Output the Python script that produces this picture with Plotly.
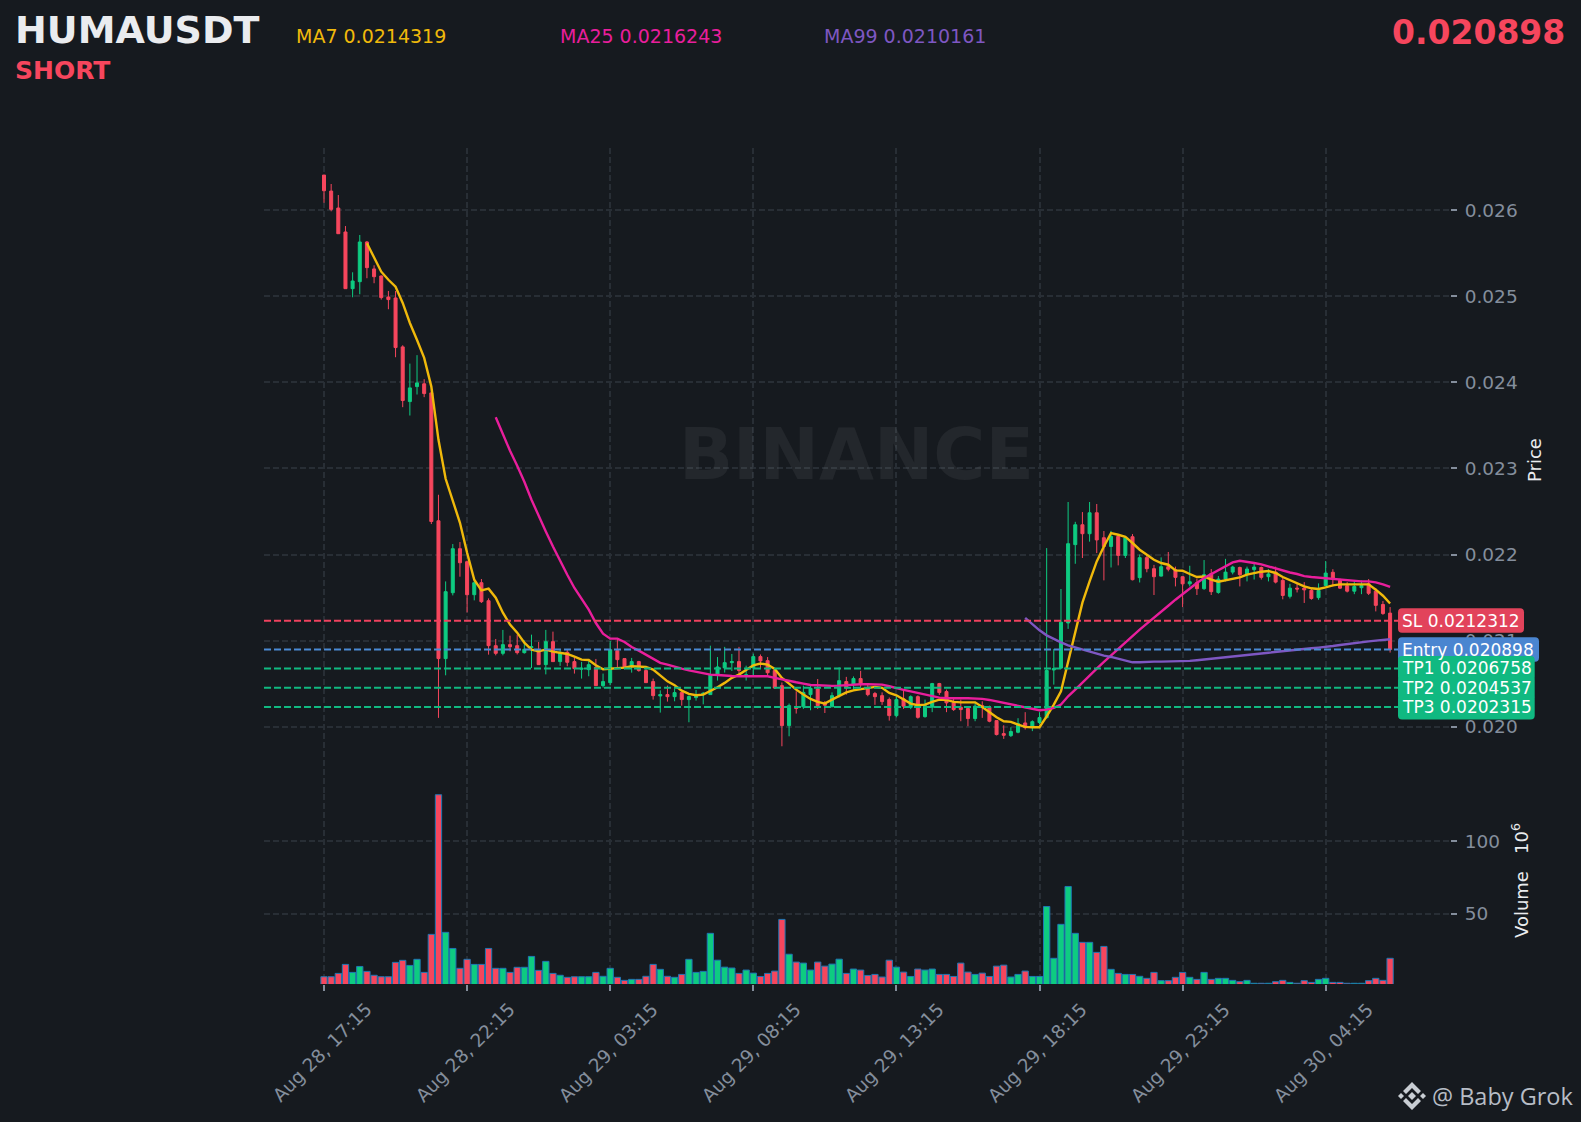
import pandas as pd
import plotly.graph_objects as go
from plotly.subplots import make_subplots

# Prices are in millionths of USDT, volume in millions
start_time = "2025-08-28 17:15"

opens = [26406, 26220, 26023, 25745, 25087, 25168, 25629, 25316, 25234, 24990,
         24979, 24411, 23776, 23950, 23982, 23877, 22392, 20792, 21557, 22068,
         21917, 21534, 21673, 21464, 20942, 20853, 20954, 20942, 20861, 20920,
         20877, 20722, 20989, 20757, 20865, 20757, 20668, 20664, 20690, 20478,
         20513, 20884, 20792, 20703, 20757, 20653, 20525, 20358, 20374, 20350,
         20397, 20316, 20339, 20374, 20374, 20606, 20684, 20745, 20757, 20590,
         20684, 20815, 20768, 20653, 20478, 20014, 20232, 20232, 20374, 20440,
         20275, 20232, 20362, 20525, 20490, 20560, 20458, 20386, 20362, 20316,
         20130, 20325, 20226, 20350, 20118, 20227, 20502, 20409, 20278, 20227,
         20212, 20096, 20246, 20227, 20072, 19921, 19898, 19937, 20045, 20007,
         20050, 20107, 20660, 20682, 21206, 22115, 22346, 22242, 22485, 22195,
         22094, 22210, 21990, 22207, 21732, 21964, 21836, 21750, 21859, 21824,
         21743, 21660, 21673, 21604, 21778, 21560, 21715, 21796, 21850, 21766,
         21825, 21850, 21743, 21796, 21700, 21515, 21610, 21610, 21584, 21500,
         21640, 21794, 21700, 21638, 21575, 21615, 21660, 21575, 21420, 21320]

highs = [26406, 26302, 26174, 25814, 25277, 25710, 25640, 25358, 25240, 25060,
         25060, 24430, 24217, 24315, 24036, 23970, 22694, 21688, 22122, 22145,
         21930, 21700, 21716, 21491, 21020, 21125, 21058, 21070, 21005, 21070,
         20985, 21125, 21105, 20896, 20890, 20803, 20754, 20770, 20788, 20618,
         20997, 21012, 20792, 20800, 20765, 20680, 20560, 20424, 20478, 20444,
         20397, 20365, 20428, 20405, 20942, 20810, 20928, 20846, 20928, 20710,
         20850, 20840, 20810, 20680, 20515, 20270, 20412, 20478, 20480, 20555,
         20300, 20400, 20690, 20580, 20585, 20650, 20500, 20405, 20400, 20340,
         20370, 20432, 20365, 20365, 20316, 20510, 20510, 20432, 20330, 20316,
         20240, 20275, 20296, 20246, 20072, 20018, 19995, 20100, 20170, 20075,
         20170, 22075, 20903, 21600, 22610, 22380, 22493, 22610, 22587, 22273,
         22275, 22230, 22215, 22238, 22000, 22000, 21880, 21967, 22030, 21860,
         21745, 21870, 21720, 21936, 21832, 21750, 21950, 21870, 21860, 21860,
         21900, 21860, 21830, 21860, 21735, 21660, 21665, 21680, 21600, 21665,
         21925, 21830, 21720, 21680, 21690, 21700, 21715, 21610, 21460, 21390]

lows = [26085, 25985, 25725, 25087, 24987, 25022, 25208, 25150, 24960, 24848,
        24291, 23711, 23614, 23858, 23827, 22354, 20104, 20598, 21526, 21743,
        21329, 21468, 21438, 20838, 20830, 20830, 20877, 20840, 20850, 20683,
        20722, 20609, 20757, 20707, 20703, 20618, 20560, 20587, 20478, 20455,
        20482, 20690, 20668, 20629, 20640, 20513, 20316, 20165, 20293, 20296,
        20246, 20053, 20304, 20261, 20374, 20537, 20630, 20648, 20606, 20537,
        20587, 20683, 20587, 20440, 19774, 19890, 20154, 20208, 20192, 20208,
        20160, 20232, 20340, 20374, 20432, 20452, 20355, 20255, 20255, 20072,
        20110, 20208, 20205, 20095, 20107, 20170, 20370, 20170, 20185, 20065,
        20007, 20065, 20104, 20053, 19900, 19860, 19882, 19925, 19968, 19950,
        20030, 20095, 20490, 20670, 21137, 21893, 21960, 22150, 22017, 21700,
        21850, 21874, 21960, 21700, 21676, 21794, 21530, 21745, 21805, 21630,
        21390, 21630, 21530, 21590, 21530, 21545, 21688, 21770, 21630, 21688,
        21710, 21710, 21688, 21665, 21480, 21490, 21560, 21438, 21475, 21475,
        21630, 21630, 21600, 21560, 21540, 21540, 21530, 21340, 21300, 20862]

closes = [26224, 26008, 25725, 25087, 25176, 25629, 25331, 25226, 24983, 24960,
          24403, 23788, 23935, 23993, 23869, 22384, 20792, 21569, 22068, 21905,
          21534, 21673, 21453, 20942, 20853, 20954, 20930, 20861, 20900, 20930,
          20722, 20989, 20757, 20858, 20749, 20676, 20680, 20722, 20478, 20525,
          20896, 20780, 20691, 20757, 20653, 20513, 20362, 20374, 20350, 20397,
          20316, 20351, 20374, 20390, 20606, 20695, 20745, 20757, 20653, 20605,
          20815, 20765, 20628, 20450, 20014, 20246, 20212, 20400, 20447, 20246,
          20250, 20362, 20536, 20452, 20560, 20490, 20374, 20350, 20293, 20130,
          20316, 20240, 20350, 20110, 20246, 20502, 20397, 20278, 20200, 20200,
          20096, 20240, 20232, 20065, 19910, 19902, 19945, 20037, 19990, 20060,
          20107, 20654, 20676, 21215, 22126, 22346, 22242, 22485, 22170, 22094,
          22210, 21990, 22195, 21708, 21964, 21836, 21743, 21859, 21830, 21735,
          21660, 21684, 21604, 21766, 21569, 21715, 21796, 21855, 21766, 21832,
          21855, 21735, 21775, 21680, 21525, 21610, 21600, 21590, 21490, 21584,
          21785, 21716, 21610, 21575, 21630, 21640, 21550, 21410, 21315, 20898]

volumes = [6.6, 6.6, 8.9, 15.1, 9.6, 13.7, 10.3, 7.6, 6.6, 6.6,
           16.5, 17.9, 14.4, 18.6, 9.6, 35.8, 132, 37.2, 26.1, 12.4,
           18.6, 15.1, 15.1, 26.1, 12.4, 12.4, 9.6, 13.1, 13.1, 20.6,
           11, 17.2, 8.9, 7.6, 6.2, 6.6, 6.6, 6.6, 9.6, 6.9,
           12.4, 6.2, 4.1, 4.8, 4.8, 6.9, 15.1, 11.7, 6.9, 6.2,
           8.2, 18.6, 9.6, 10.3, 36.5, 18, 13.2, 12.6, 8.9, 11.2,
           9.1, 6.8, 8.9, 10.5, 46.1, 22.1, 16.7, 16, 11.2, 16.7,
           13.9, 15.3, 18.7, 8.9, 11.9, 11.2, 7.5, 8.2, 6.4, 18,
           13.2, 9.8, 6.8, 11.9, 11.2, 11.9, 8.2, 8.2, 6.8, 16,
           9.8, 8.2, 9.1, 6.8, 13.9, 14.6, 6.4, 8.2, 10.5, 6.8,
           6.8, 55, 19.3, 42.7, 68.8, 36.5, 30.3, 30.3, 23.4, 27.5,
           11.7, 8.9, 8.2, 8.2, 6.9, 5.5, 9.6, 3.9, 3.9, 6.2,
           9.6, 6.2, 4.8, 9.6, 4.8, 5.5, 5.5, 4.1, 3.2, 4.1,
           2.1, 2.1, 2.1, 3.2, 4.1, 2.7, 2.1, 3.9, 2.7, 4.8,
           5.5, 2.7, 2.7, 2.1, 2.1, 2.1, 3.9, 5.5, 4.1, 19.3]

# The moving averages end on the last candle, each starts later
ma7 = [25614, 25450, 25284, 25190, 25110, 24921, 24689, 24492, 24283, 23950,
       23332, 22880, 22636, 22369, 22020, 21708, 21584, 21604, 21499, 21325,
       21186, 21093, 20977, 20896, 20877, 20896, 20873, 20861, 20846, 20815,
       20780, 20776, 20714, 20668, 20676, 20676, 20687, 20703, 20699, 20695,
       20664, 20598, 20528, 20482, 20420, 20382, 20366, 20374, 20412, 20459,
       20510, 20568, 20606, 20656, 20714, 20734, 20722, 20672, 20568, 20502,
       20432, 20374, 20324, 20289, 20270, 20316, 20362, 20400, 20424, 20436,
       20452, 20464, 20452, 20394, 20366, 20316, 20270, 20250, 20258, 20289,
       20316, 20312, 20289, 20284, 20284, 20284, 20231, 20169, 20111, 20065,
       20057, 20026, 19999, 19995, 19995, 20122, 20258, 20412, 20745, 21093,
       21441, 21688, 21920, 22094, 22250, 22230, 22207, 22134, 22056, 21998,
       21940, 21902, 21882, 21816, 21812, 21774, 21739, 21746, 21708, 21685,
       21700, 21720, 21735, 21766, 21786, 21801, 21809, 21786, 21739, 21700,
       21662, 21631, 21608, 21600, 21619, 21642, 21654, 21654, 21654, 21662,
       21654, 21592, 21522, 21432]

ma25 = [23595, 23390, 23204, 23030, 22845, 22636, 22443, 22268, 22094, 21920,
        21766, 21612, 21488, 21360, 21205, 21082, 21024, 21024, 20985, 20927,
        20884, 20838, 20788, 20742, 20722, 20703, 20676, 20656, 20637, 20618,
        20606, 20602, 20594, 20590, 20587, 20587, 20590, 20590, 20587, 20568,
        20548, 20528, 20517, 20502, 20486, 20482, 20475, 20475, 20478, 20486,
        20490, 20494, 20494, 20494, 20490, 20471, 20447, 20428, 20412, 20394,
        20378, 20359, 20339, 20331, 20335, 20331, 20331, 20331, 20324, 20312,
        20296, 20278, 20262, 20246, 20227, 20208, 20192, 20200, 20219, 20258,
        20354, 20432, 20517, 20598, 20676, 20753, 20830, 20904, 20981, 21051,
        21128, 21198, 21264, 21333, 21406, 21476, 21542, 21604, 21670, 21728,
        21774, 21816, 21870, 21909, 21928, 21917, 21902, 21886, 21862, 21836,
        21812, 21792, 21774, 21750, 21739, 21731, 21723, 21716, 21708, 21700,
        21696, 21688, 21688, 21677, 21654, 21624]

ma99 = [21264, 21186, 21120, 21062, 21020, 20981, 20946, 20923, 20896, 20869,
        20846, 20826, 20811, 20792, 20768, 20749, 20749, 20757, 20757, 20757,
        20757, 20757, 20757, 20765, 20772, 20780, 20788, 20795, 20806, 20814,
        20822, 20832, 20842, 20851, 20860, 20870, 20880, 20889, 20896, 20904,
        20912, 20920, 20927, 20938, 20950, 20962, 20974, 20985, 20992, 21000,
        21009, 21016]

price_ticks = [0.020, 0.021, 0.022, 0.023, 0.024, 0.025, 0.026]
volume_ticks = [50, 100]
tick_every = 20

levels = ["SL 0.0212312", "Entry 0.020898", "TP1 0.0206758", "TP2 0.0204537", "TP3 0.0202315"]
level_values = [0.0212312, 0.020898, 0.0206758, 0.0204537, 0.0202315]

BG = "#161a1f"
GRID = "#282e35"
TICK = "#848e9c"
WHITE = "#eaecef"
RED = "#f6465d"
GREEN = "#0ecb81"
BLUE = "#4a8ad4"
YELLOW = "#f0b90b"
PINK = "#e91e9c"
PURPLE = "#7e57c2"
FONT = "DejaVu Sans"

# Plot area in page pixels
LEFT, RIGHT, TOP, BOTTOM = 264, 1450, 148, 984
SPLIT = 794


def fx(px):
    return (px - LEFT) / (RIGHT - LEFT)


def fy(py):
    return (BOTTOM - py) / (BOTTOM - TOP)


def rounded_box(x0, y0, x1, y1, r=4):
    "Path of a box with rounded corners, given in page pixels"
    corners = [
        f"M {fx(x0 + r)},{fy(y0)}", f"L {fx(x1 - r)},{fy(y0)}",
        f"Q {fx(x1)},{fy(y0)} {fx(x1)},{fy(y0 + r)}", f"L {fx(x1)},{fy(y1 - r)}",
        f"Q {fx(x1)},{fy(y1)} {fx(x1 - r)},{fy(y1)}", f"L {fx(x0 + r)},{fy(y1)}",
        f"Q {fx(x0)},{fy(y1)} {fx(x0)},{fy(y1 - r)}", f"L {fx(x0)},{fy(y0 + r)}",
        f"Q {fx(x0)},{fy(y0)} {fx(x0 + r)},{fy(y0)}", "Z",
    ]
    return " ".join(corners)


def polygon(points):
    "Path of a closed polygon, given in page pixels"
    parts = [f"{fx(x)},{fy(y)}" for x, y in points]
    return "M " + " L ".join(parts) + " Z"


def text_note(fig, text, x, y, size, color, anchor="left", bold=False, angle=0, family=FONT):
    if bold:
        text = f"<b>{text}</b>"
    fig.add_annotation(
        text=text, xref="paper", yref="paper", x=fx(x), y=fy(y),
        xanchor=anchor, yanchor="middle", showarrow=False, textangle=angle,
        font=dict(family=family, size=size, color=color),
    )


dates = pd.date_range(start_time, periods=len(closes), freq="15min")
scale = 1e-6
o = [v * scale for v in opens]
h = [v * scale for v in highs]
l = [v * scale for v in lows]
c = [v * scale for v in closes]

fig = make_subplots(rows=2, cols=1, shared_xaxes=True, vertical_spacing=0)

fig.add_trace(go.Candlestick(
    x=dates, open=o, high=h, low=l, close=c,
    increasing=dict(line=dict(color=GREEN, width=1), fillcolor=GREEN),
    decreasing=dict(line=dict(color=RED, width=1), fillcolor=RED),
    name="Price", hoverinfo="skip",
), row=1, col=1)

for values, color in [(ma7, YELLOW), (ma25, PINK), (ma99, PURPLE)]:
    fig.add_trace(go.Scatter(
        x=dates[-len(values):], y=[v * scale for v in values], mode="lines",
        line=dict(color=color, width=2.4), hoverinfo="skip",
    ), row=1, col=1)

bar_colors = [GREEN if b >= a else RED for a, b in zip(opens, closes)]
fig.add_trace(go.Bar(
    x=dates, y=volumes, marker=dict(color=bar_colors, line=dict(color="#1f77b4", width=1)),
    hoverinfo="skip",
), row=2, col=1)

# Stop, entry and target levels with their labels
level_colors = ["#f0425f", BLUE, "#10b981", "#10b981", "#10b981"]
for value, color in zip(level_values, level_colors):
    fig.add_hline(y=value, line=dict(color=color, width=2, dash="7px,3px"), row=1, col=1, layer="above")

label_boxes = [
    (1398, 608.3, 1524, 632.7, "#e2435b"),
    (1398, 637.3, 1539, 661.7, "#4a85d0"),
    (1398, 656, 1534.7, 680.5, "#10b981"),
    (1398, 675.8, 1534.7, 700.3, "#10b981"),
    (1398, 695, 1534.7, 719.5, "#10b981"),
]
for x0, y0, x1, y1, color in label_boxes:
    fig.add_shape(type="path", path=rounded_box(x0, y0, x1, y1), xref="paper", yref="paper",
                  fillcolor=color, line_width=0, layer="above")
for label, box in zip(levels, label_boxes):
    text_note(fig, label, 1399.5, (box[1] + box[3]) / 2, 17, "#ffffff")

# Logo next to the signature
logo = [
    [(1412, 1092), (1416, 1096), (1412, 1100), (1408, 1096)],
    [(1401, 1093), (1404, 1096), (1401, 1099), (1398, 1096)],
    [(1423, 1093), (1426, 1096), (1423, 1099), (1420, 1096)],
    [(1412, 1082), (1421, 1091), (1418, 1094), (1412, 1088), (1406, 1094), (1403, 1091)],
    [(1412, 1110), (1421, 1101), (1418, 1098), (1412, 1104), (1406, 1098), (1403, 1101)],
]
for points in logo:
    fig.add_shape(type="path", path=polygon(points), xref="paper", yref="paper",
                  fillcolor="#c8cdd3", line_width=0, layer="above")

text_note(fig, "HUMAUSDT", 12.5, 30, 38, WHITE, bold=True)
text_note(fig, "SHORT", 12.5, 70, 25, RED, bold=True)
text_note(fig, "MA7 0.0214319", 293.5, 36, 19, YELLOW)
text_note(fig, "MA25 0.0216243", 557.5, 36, 19, PINK)
text_note(fig, "MA99 0.0210161", 821.5, 36, 19, PURPLE)
text_note(fig, "0.020898", 1567, 32, 33, RED, anchor="right", bold=True)
text_note(fig, "BINANCE", 856, 454, 71, "rgba(255,255,255,0.06)", anchor="center", bold=True)
text_note(fig, "Price", 1535, 460, 18, WHITE, anchor="center", angle=-90)
text_note(fig, "Volume &nbsp;&nbsp;10<sup>6</sup>", 1520, 881, 18, WHITE, anchor="center", angle=-90)
text_note(fig, "@ Baby Grok", 1430, 1096, 23.5, "#b7bdc6", family="Open Sans")

# Slanted time labels sit centred under their ticks
for tick in dates[::tick_every]:
    fig.add_annotation(
        text=tick.strftime("%b %d, %H:%M"), xref="x2", yref="paper", x=tick, y=fy(1052.5), xshift=-2,
        xanchor="center", yanchor="middle", showarrow=False, textangle=-45,
        font=dict(family=FONT, size=18.5, color=TICK),
    )

x_start = dates[0] + (LEFT - 324) / 7.155 * pd.Timedelta("15min")
x_end = dates[0] + (RIGHT - 324) / 7.155 * pd.Timedelta("15min")
axis_style = dict(
    showgrid=True, gridcolor=GRID, gridwidth=1.5, griddash="6px,3px", zeroline=False,
    showline=False, ticks="outside", ticklen=6, tickwidth=2, tickcolor=TICK,
)
fig.update_xaxes(
    range=[x_start, x_end], tickvals=list(dates[::tick_every]), showticklabels=False,
    rangeslider_visible=False, **axis_style,
)
fig.update_xaxes(ticks="", row=1, col=1)
fig.update_yaxes(
    side="right", tickfont=dict(family=FONT, size=18.5, color=TICK), ticklabelstandoff=4, **axis_style,
)

fig.update_layout(
    width=1581, height=1122, autosize=False,
    paper_bgcolor=BG, plot_bgcolor=BG, showlegend=False, bargap=0.12, boxgap=0.4,
    margin=dict(l=LEFT, r=1581 - RIGHT, t=TOP, b=1122 - BOTTOM),
    font=dict(family=FONT),
    yaxis=dict(domain=[fy(SPLIT), 1], range=[0.019220, 0.026720], tickvals=price_ticks, tickformat=".3f"),
    yaxis2=dict(domain=[0, fy(SPLIT)], range=[1.6, 132.5], tickvals=volume_ticks),
)

# The page margin would push the figure off the window
fig.write_html("out.html", config={"displayModeBar": False},
               post_script="document.body.style.margin = '0';")
